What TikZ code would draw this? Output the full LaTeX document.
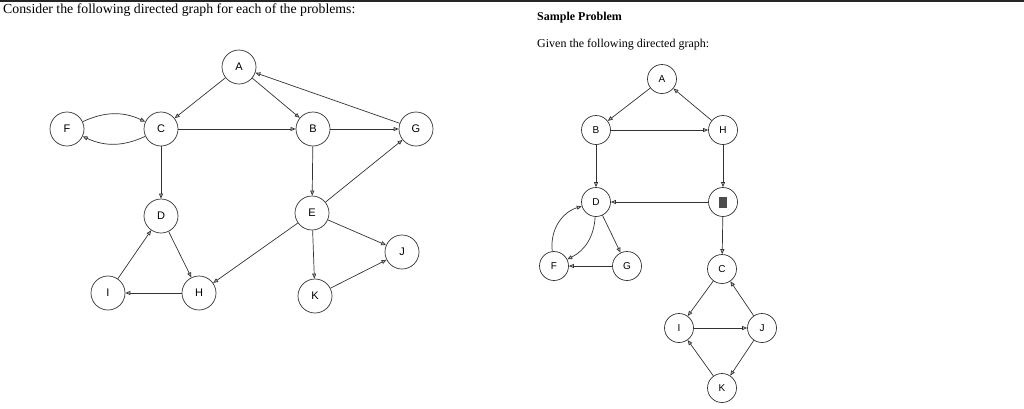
\documentclass[tikz,border=0pt]{standalone}
\usepackage{fontspec}
\setmainfont{Liberation Serif}
\newfontfamily\labelfont{Liberation Sans}
\usetikzlibrary{arrows.meta}

\begin{document}
\begin{tikzpicture}[x=1pt,y=1pt,
	vtx/.style={circle,draw=black!80,line width=0.7pt,minimum size=34pt,inner sep=0pt,font=\labelfont\fontsize{11}{13}\selectfont},
	svtx/.style={vtx,minimum size=29pt,font=\labelfont\fontsize{10}{12}\selectfont},
	edge/.style={draw=black!80,line width=0.7pt,-{Triangle[length=5pt,width=4pt,fill=gray!50]}},
	heading/.style={anchor=base west,inner sep=0pt,font=\fontsize{12}{14}\selectfont}]
	\useasboundingbox (0,0) rectangle (1024,-408);
	\fill[black!85] (0,0) rectangle (1024,-2);
	%% texts
	\node[heading,font=\fontsize{13.8}{15}\selectfont] (title) at (3,-13) {Consider the following directed graph for each of the problems:};
	\node[heading,font=\bfseries\fontsize{12}{14}\selectfont] (sample) at (537,-20) {Sample Problem};
	\node[heading] (given) at (537,-47) {Given the following directed graph:};
	%% first graph
	\node[vtx] (a) at (239,-67) {A};
	\node[vtx] (f) at (67,-129) {F};
	\node[vtx] (c) at (161,-129) {C};
	\node[vtx] (b) at (313,-129) {B};
	\node[vtx] (g) at (416,-129) {G};
	\node[vtx] (d) at (161,-216) {D};
	\node[vtx] (e) at (312,-213) {E};
	\node[vtx] (j) at (402,-252) {J};
	\node[vtx] (i) at (108,-293) {I};
	\node[vtx] (h) at (199,-293) {H};
	\node[vtx] (k) at (315,-296) {K};
	\draw[edge] (a) -- (c);
	\draw[edge] (a) -- (b);
	\draw[edge] (g) -- (a);
	\draw[edge] (f) to[bend left=25] (c);
	\draw[edge] (c) to[bend left=25] (f);
	\draw[edge] (c) -- (b);
	\draw[edge] (b) -- (g);
	\draw[edge] (c) -- (d);
	\draw[edge] (b) -- (e);
	\draw[edge] (e) -- (g);
	\draw[edge] (d) -- (h);
	\draw[edge] (i) -- (d);
	\draw[edge] (h) -- (i);
	\draw[edge] (e) -- (h);
	\draw[edge] (e) -- (j);
	\draw[edge] (e) -- (k);
	\draw[edge] (k) -- (j);
	%% sample graph
	\node[svtx] (sa) at (662,-79) {A};
	\node[svtx] (sb) at (596,-130) {B};
	\node[svtx] (sh) at (723,-130) {H};
	\node[svtx] (sd) at (596,-202) {D};
	\node[svtx] (se) at (723,-202) {\textcolor{gray!60!black}{\rule{8pt}{11pt}}};
	\node[svtx] (sf) at (554,-266) {F};
	\node[svtx] (sg) at (627,-266) {G};
	\node[svtx] (sc) at (722,-269) {C};
	\node[svtx] (si) at (679,-328) {I};
	\node[svtx] (sj) at (762,-328) {J};
	\node[svtx] (sk) at (722,-388) {K};
	\draw[edge] (sa) -- (sb);
	\draw[edge] (sh) -- (sa);
	\draw[edge] (sb) -- (sh);
	\draw[edge] (sb) -- (sd);
	\draw[edge] (sh) -- (se);
	\draw[edge] (se) -- (sd);
	\draw[edge] (se) -- (sc);
	\draw[edge] (sf) to[bend left=40] (sd);
	\draw[edge] (sd) to[bend left=30] (sf);
	\draw[edge] (sd) -- (sg);
	\draw[edge] (sg) -- (sf);
	\draw[edge] (sc) -- (si);
	\draw[edge] (sj) -- (sc);
	\draw[edge] (si) -- (sj);
	\draw[edge] (sj) -- (sk);
	\draw[edge] (sk) -- (si);
\end{tikzpicture}
\end{document}
